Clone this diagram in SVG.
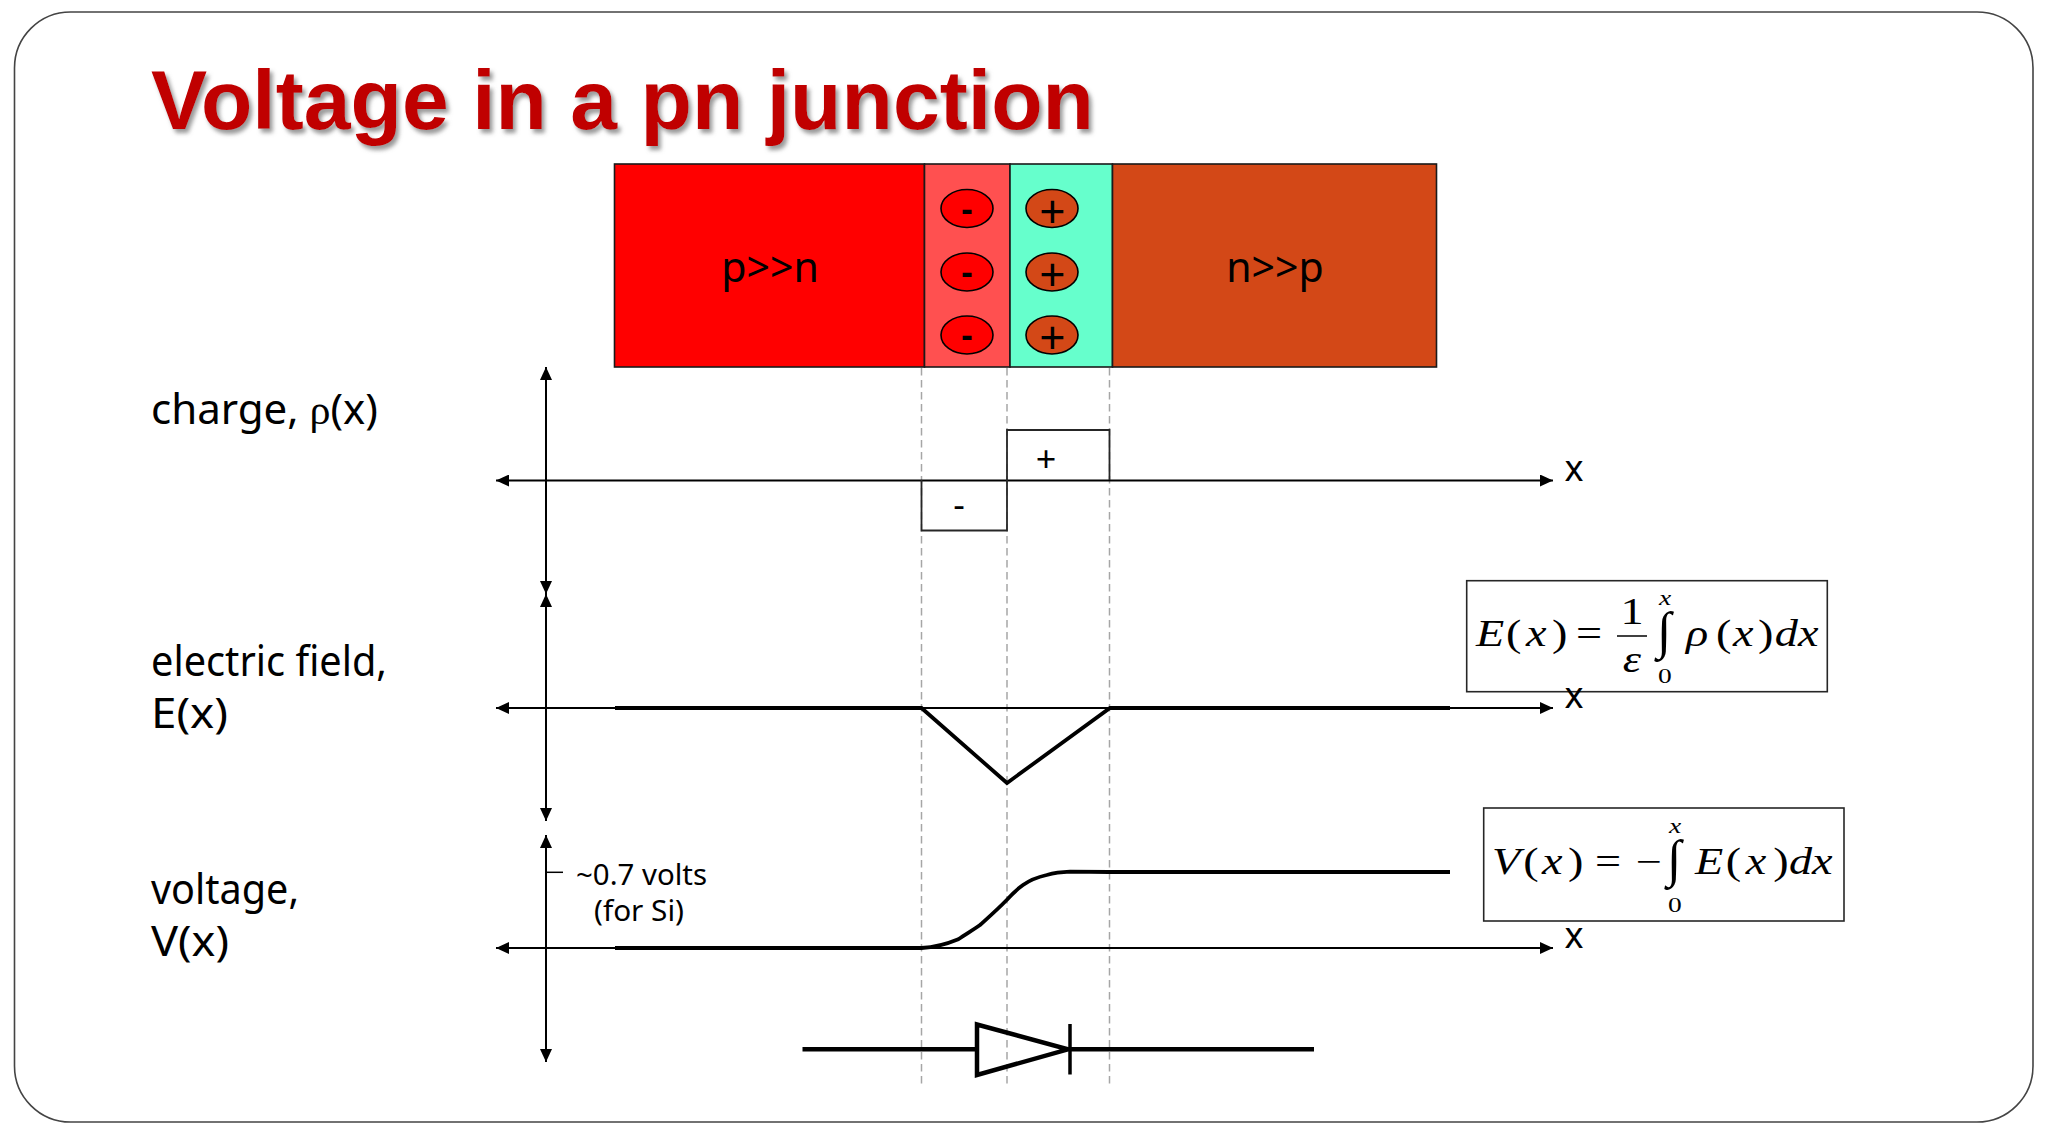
<svg xmlns="http://www.w3.org/2000/svg" width="2048" height="1138" viewBox="0 0 2048 1138">
<style>
.t{font-family:"Noto Sans","Open Sans","DejaVu Sans",sans-serif;fill:#000}
.lab{font-size:41px}
.sm{font-size:29px}
.ax{stroke:#000;stroke-width:2;fill:none;marker-start:url(#ah);marker-end:url(#ah)}
.dash{stroke:#a6a6a6;stroke-width:1.5;stroke-dasharray:7.500 4.500;fill:none}
.thick{stroke:#000;stroke-width:3.800;fill:none}
.box{fill:#fff;stroke:#262626;stroke-width:1.600}
.ion{stroke:#000;stroke-width:1.600}
.m{font-family:"Liberation Serif","Times New Roman",serif;font-size:37px;fill:#000}
.i{font-style:italic}
.s{font-size:22px}
.int{font-size:52px;text-anchor:middle}
.mid{text-anchor:middle}
</style>
<defs>
<marker id="ah" markerUnits="userSpaceOnUse" markerWidth="13" markerHeight="12" viewBox="0 0 13 12" refX="13" refY="6" orient="auto-start-reverse"><path d="M0 0L13 6L0 12Z" fill="#000"/></marker>
<filter id="sh" x="-5%" y="-20%" width="110%" height="140%"><feDropShadow dx="3" dy="4" stdDeviation="2" flood-color="#777" flood-opacity=".75"/></filter>
</defs>
<rect width="2048" height="1138" fill="#fff"/>
<rect x="14.500" y="12" width="2018.500" height="1110" rx="56" ry="56" fill="#fff" stroke="#444" stroke-width="1.600"/>
<text id="title" x="151" y="129" textLength="943" lengthAdjust="spacingAndGlyphs" style="font-family:'Liberation Sans',Arial,sans-serif;font-weight:700;font-size:83px;fill:#c00000" filter="url(#sh)">Voltage in a pn junction</text>

<g id="connectors">
<path class="dash" d="M921.500 368V1084M1007 368V1084M1109.500 368V1084"/>
<line class="ax" x1="546" y1="367" x2="546" y2="594"/>
<line class="ax" x1="546" y1="594" x2="546" y2="821"/>
<line class="ax" x1="546" y1="835" x2="546" y2="1062"/>
<line class="ax" x1="496" y1="480.500" x2="1553" y2="480.500"/>
<line class="ax" x1="496" y1="708" x2="1553" y2="708"/>
<line class="ax" x1="496" y1="948" x2="1553" y2="948"/>
<path d="M546 872.300H563" stroke="#000" stroke-width="1.500"/>
<path class="thick" d="M615 708H921.500L1007 783L1110 708H1450"/>
<path class="thick" d="M615 948H921.500C932 947.500 947 944 958.300 939.300C966 934 973 930 980 925C990 916 998 909 1006.700 900C1012 894 1016 890 1023 885C1030 880 1038 877 1046.700 875C1054 873 1062 872 1070 871.700L1109 872H1450"/>
</g>

<g id="junction">
<rect x="614.500" y="164" width="310" height="203" fill="#f00" stroke="#1a1a1a" stroke-width="1.600"/>
<rect x="924.500" y="164" width="85.500" height="203" fill="#ff5050" stroke="#1a1a1a" stroke-width="1.600"/>
<rect x="1010" y="164" width="102.500" height="203" fill="#66ffcc" stroke="#1a1a1a" stroke-width="1.600"/>
<rect x="1112.500" y="164" width="324" height="203" fill="#d34817" stroke="#1a1a1a" stroke-width="1.600"/>
<text class="t lab mid" x="770" y="282">p&gt;&gt;n</text>
<text class="t lab mid" x="1275" y="282">n&gt;&gt;p</text>
</g>
<g id="ions-negative">
<ellipse class="ion" cx="967" cy="208.500" rx="26" ry="19" fill="#f00"/>
<ellipse class="ion" cx="967" cy="272" rx="26" ry="19" fill="#f00"/>
<ellipse class="ion" cx="967" cy="335" rx="26" ry="19" fill="#f00"/>
<text class="t mid" font-size="34" font-weight="700" x="967" y="221">-</text>
<text class="t mid" font-size="34" font-weight="700" x="967" y="284">-</text>
<text class="t mid" font-size="34" font-weight="700" x="967" y="347">-</text>
</g>
<g id="ions-positive">
<ellipse class="ion" cx="1052" cy="208.500" rx="26" ry="19" fill="#d34817"/>
<ellipse class="ion" cx="1052" cy="272" rx="26" ry="19" fill="#d34817"/>
<ellipse class="ion" cx="1052" cy="335" rx="26" ry="19" fill="#d34817"/>
<text class="t mid" font-size="46" x="1052.500" y="227.500">+</text>
<text class="t mid" font-size="46" x="1052.500" y="291">+</text>
<text class="t mid" font-size="46" x="1052.500" y="354">+</text>
</g>

<g id="charge-plot">
<path d="M921.500 480V530.500H1007V430H1109.500V480" fill="none" stroke="#262626" stroke-width="1.800"/>
<text class="t mid" font-size="36" x="1046" y="472">+</text>
<text class="t mid" font-size="36" x="959" y="517">-</text>
</g>

<g id="eq-E">
<rect class="box" x="1466.700" y="580.700" width="360.600" height="111"/>
<g transform="translate(1476 646) scale(1.250 1)">
<text class="m i" x="0" y="0">E</text>
<text class="m" x="24" y="0">(</text>
<text class="m i" x="40" y="0">x</text>
<text class="m" x="60.800" y="0">)</text>
<text class="m" x="80" y="0">=</text>
<text class="m mid" x="124.800" y="-22">1</text>
<text class="m i mid" x="124.800" y="26">ε</text>
<text class="m i s mid" x="151.200" y="-41">x</text>
<text class="m s mid" x="151.200" y="37">0</text>
<text class="m i" x="168" y="0">ρ</text>
<text class="m" x="192" y="0">(</text>
<text class="m i" x="205.600" y="0">x</text>
<text class="m" x="225.600" y="0">)</text>
<text class="m i" x="239" y="0">d</text>
<text class="m i" x="257.600" y="0">x</text>
</g>
<path d="M1617 636H1647" stroke="#000" stroke-width="1.500"/>
<text class="m int" x="1664" y="648">∫</text>
</g>

<g id="eq-V">
<rect class="box" x="1483.700" y="808" width="360.300" height="113"/>
<g transform="translate(1492 874) scale(1.250 1)">
<text class="m i" x="0" y="0">V</text>
<text class="m" x="25" y="0">(</text>
<text class="m i" x="40" y="0">x</text>
<text class="m" x="60.800" y="0">)</text>
<text class="m" x="82.400" y="0">=</text>
<text class="m" x="115" y="0">−</text>
<text class="m i s mid" x="146.400" y="-41">x</text>
<text class="m s mid" x="146.400" y="38">0</text>
<text class="m i" x="162.400" y="0">E</text>
<text class="m" x="187" y="0">(</text>
<text class="m i" x="203" y="0">x</text>
<text class="m" x="225" y="0">)</text>
<text class="m i" x="237.600" y="0">d</text>
<text class="m i" x="256" y="0">x</text>
</g>
<text class="m int" x="1674" y="876">∫</text>
</g>

<g id="labels">
<text class="t lab" x="151" y="424" textLength="227" lengthAdjust="spacingAndGlyphs">charge, <tspan style="font-family:'Liberation Serif',serif">ρ</tspan>(x)</text>
<text class="t lab" x="151" y="676" textLength="236" lengthAdjust="spacingAndGlyphs">electric field,</text>
<text class="t lab" x="151" y="728" textLength="77" lengthAdjust="spacingAndGlyphs">E(x)</text>
<text class="t lab" x="151" y="904" textLength="148" lengthAdjust="spacingAndGlyphs">voltage,</text>
<text class="t lab" x="151" y="956" textLength="78" lengthAdjust="spacingAndGlyphs">V(x)</text>
<text class="t sm" x="576" y="885" textLength="131" lengthAdjust="spacingAndGlyphs">~0.7 volts</text>
<text class="t sm" x="594" y="921" textLength="90" lengthAdjust="spacingAndGlyphs">(for Si)</text>
<text class="t mid" font-size="36" x="1574" y="481">x</text>
<text class="t mid" font-size="36" x="1574" y="708">x</text>
<text class="t mid" font-size="36" x="1574" y="948">x</text>
</g>

<g id="diode">
<path d="M802.500 1049.300H977M1070 1049.300H1314" stroke="#000" stroke-width="4.500" fill="none"/>
<path d="M977 1024.500V1075L1068 1049.300Z" fill="none" stroke="#000" stroke-width="4.500"/>
<path d="M1070 1024V1074.500" stroke="#000" stroke-width="3.500"/>
</g>
</svg>
